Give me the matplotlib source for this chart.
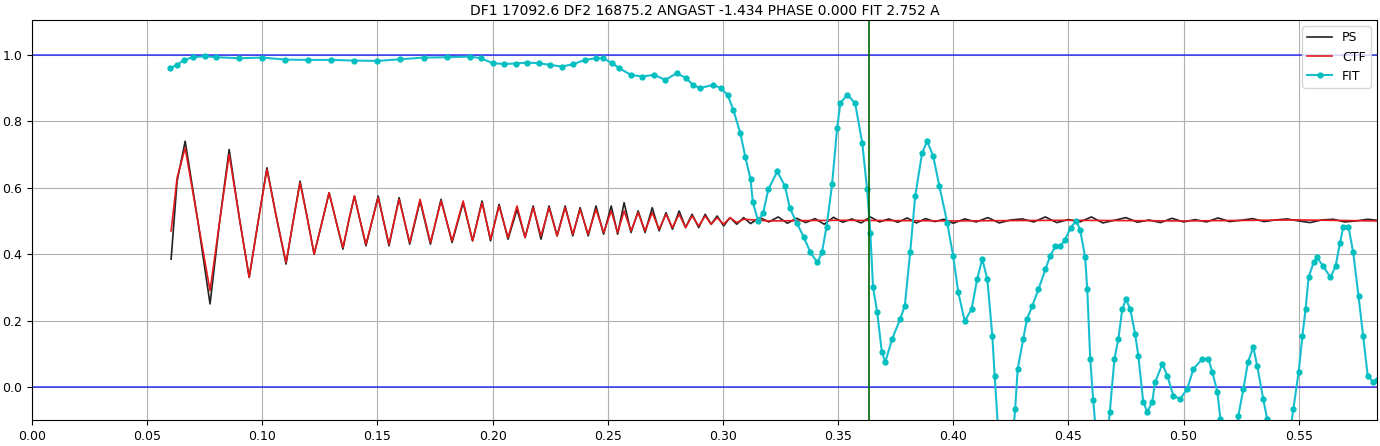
import matplotlib
matplotlib.use("Agg")
import matplotlib.pyplot as plt

# CTF curve (extrema and crossings)
ctf_x = [0.0604, 0.063, 0.0665, 0.072, 0.0773, 0.0815, 0.0856, 0.090, 0.0943, 0.098, 0.102, 0.106,
         0.1103, 0.1133, 0.1164, 0.1195, 0.1225, 0.1257, 0.129, 0.132, 0.135, 0.1375, 0.140, 0.1425, 0.145,
         0.1503, 0.155, 0.1594, 0.164, 0.1685, 0.173, 0.1776, 0.1824, 0.1872, 0.1913, 0.1954, 0.1991,
         0.2028, 0.2067, 0.2106, 0.2141, 0.2176, 0.221, 0.2245, 0.228, 0.2315, 0.2348, 0.238, 0.2415,
         0.2449, 0.2482, 0.2515, 0.2543, 0.2571, 0.2601, 0.2632, 0.2662, 0.2693, 0.2723, 0.2753, 0.2781,
         0.281, 0.2838, 0.2866, 0.2895, 0.2923, 0.2949, 0.2975, 0.3003, 0.3031, 0.306, 0.309]
ctf_y = [0.47, 0.63, 0.72, 0.50, 0.29, 0.50, 0.70, 0.51, 0.33, 0.49, 0.655, 0.515,
         0.375, 0.495, 0.615, 0.51, 0.40, 0.49, 0.585, 0.50, 0.42, 0.50, 0.575, 0.50, 0.43,
         0.57, 0.43, 0.565, 0.435, 0.565, 0.435, 0.56, 0.44, 0.56, 0.44, 0.555, 0.445,
         0.545, 0.45, 0.545, 0.45, 0.54, 0.455, 0.54, 0.455, 0.54, 0.46, 0.535, 0.46,
         0.535, 0.465, 0.53, 0.465, 0.53, 0.47, 0.525, 0.47, 0.525, 0.475, 0.52, 0.48,
         0.52, 0.48, 0.515, 0.485, 0.515, 0.49, 0.51, 0.49, 0.51, 0.495, 0.505]
ctf_tail_x = [0.32, 0.35, 0.40, 0.45, 0.50, 0.55, 0.584]
ctf_tail_y = [0.500, 0.502, 0.500, 0.502, 0.500, 0.503, 0.500]

# PS curve (same sampling)
ps_y = [0.385, 0.62, 0.74, 0.50, 0.25, 0.50, 0.715, 0.51, 0.33, 0.49, 0.66, 0.515,
        0.37, 0.495, 0.62, 0.51, 0.40, 0.49, 0.585, 0.50, 0.415, 0.50, 0.575, 0.50, 0.425,
        0.575, 0.425, 0.57, 0.43, 0.56, 0.43, 0.565, 0.435, 0.555, 0.44, 0.56, 0.44,
        0.55, 0.445, 0.535, 0.45, 0.545, 0.445, 0.545, 0.455, 0.545, 0.455, 0.54, 0.455,
        0.545, 0.46, 0.545, 0.46, 0.555, 0.465, 0.53, 0.465, 0.54, 0.47, 0.525, 0.475,
        0.53, 0.48, 0.52, 0.48, 0.52, 0.49, 0.515, 0.485, 0.51, 0.49, 0.51]
ps_tail_x = [0.312, 0.316, 0.320, 0.324, 0.328, 0.332, 0.336, 0.340, 0.344, 0.348, 0.352, 0.356,
             0.360, 0.364, 0.368, 0.372, 0.376, 0.380, 0.384, 0.388, 0.392, 0.396, 0.400, 0.405,
             0.410, 0.415, 0.420, 0.425, 0.430, 0.435, 0.440, 0.445, 0.450, 0.455, 0.460, 0.465,
             0.470, 0.475, 0.480, 0.485, 0.490, 0.495, 0.500, 0.505, 0.510, 0.515, 0.520, 0.525,
             0.530, 0.535, 0.540, 0.545, 0.550, 0.555, 0.560, 0.565, 0.570, 0.575, 0.580, 0.584]
ps_tail_y = [0.492, 0.510, 0.497, 0.512, 0.493, 0.508, 0.495, 0.507, 0.490, 0.511, 0.496, 0.506,
             0.494, 0.512, 0.497, 0.506, 0.496, 0.509, 0.494, 0.507, 0.498, 0.505, 0.493, 0.506,
             0.497, 0.510, 0.494, 0.503, 0.506, 0.497, 0.512, 0.495, 0.504, 0.497, 0.512, 0.494,
             0.502, 0.510, 0.496, 0.503, 0.495, 0.508, 0.497, 0.504, 0.497, 0.509, 0.498, 0.502,
             0.507, 0.498, 0.503, 0.506, 0.500, 0.495, 0.503, 0.505, 0.497, 0.500, 0.505, 0.502]

# FIT curve
fit_x = [0.060, 0.063, 0.066, 0.070, 0.075, 0.080, 0.090, 0.100, 0.110, 0.120, 0.130, 0.140, 0.150,
         0.160, 0.170, 0.180, 0.190, 0.195, 0.200, 0.205, 0.210, 0.215, 0.220, 0.225, 0.230, 0.235,
         0.240, 0.245, 0.248, 0.252, 0.255, 0.260, 0.265, 0.270, 0.275, 0.280, 0.284, 0.287, 0.290,
         0.2958, 0.299, 0.302, 0.3045, 0.3075, 0.3097, 0.312, 0.313, 0.3153, 0.3175, 0.3197, 0.3236,
         0.327, 0.329, 0.332, 0.335, 0.338, 0.341, 0.343, 0.345, 0.3474, 0.3496, 0.351, 0.354, 0.3574,
         0.3605, 0.3626, 0.364, 0.3652, 0.367, 0.369, 0.3705, 0.3735, 0.377, 0.379, 0.3813, 0.3835,
         0.3865, 0.3887, 0.3913, 0.394, 0.3974, 0.400, 0.4022, 0.405, 0.408, 0.4104, 0.4126, 0.4148,
         0.417, 0.418, 0.4225, 0.4269, 0.428, 0.4304, 0.432, 0.4343, 0.437, 0.440, 0.442, 0.4443,
         0.4465, 0.4486, 0.451, 0.4534, 0.4551, 0.4573, 0.4582, 0.4595, 0.4608, 0.4645, 0.468, 0.470,
         0.4717, 0.4734, 0.475, 0.4769, 0.479, 0.4804, 0.4825, 0.4843, 0.4864, 0.4877, 0.4908, 0.493,
         0.4956, 0.4986, 0.5016, 0.5043, 0.5081, 0.5108, 0.5125, 0.5147, 0.516, 0.520, 0.5238, 0.526,
         0.528, 0.5303, 0.532, 0.5346, 0.5363, 0.542, 0.5477, 0.550, 0.5516, 0.553, 0.5543, 0.5565,
         0.558, 0.5607, 0.5638, 0.566, 0.568, 0.5694, 0.5716, 0.5737, 0.576, 0.578, 0.580, 0.5824, 0.584]
fit_y = [0.96, 0.97, 0.985, 0.993, 0.996, 0.993, 0.99, 0.992, 0.986, 0.985, 0.985, 0.983, 0.982,
         0.987, 0.992, 0.993, 0.995, 0.99, 0.975, 0.973, 0.974, 0.977, 0.975, 0.97, 0.965, 0.972,
         0.985, 0.99, 0.99, 0.975, 0.96, 0.94, 0.935, 0.94, 0.925, 0.945, 0.93, 0.91, 0.90,
         0.91, 0.90, 0.88, 0.835, 0.766, 0.694, 0.625, 0.556, 0.50, 0.525, 0.595, 0.649,
         0.604, 0.54, 0.495, 0.453, 0.405, 0.375, 0.405, 0.483, 0.61, 0.78, 0.855, 0.88, 0.855,
         0.735, 0.595, 0.465, 0.30, 0.225, 0.105, 0.075, 0.145, 0.205, 0.245, 0.405, 0.575,
         0.705, 0.74, 0.695, 0.605, 0.495, 0.393, 0.285, 0.198, 0.235, 0.325, 0.385, 0.325,
         0.153, 0.033, -0.45, -0.066, 0.054, 0.144, 0.204, 0.243, 0.294, 0.354, 0.393, 0.423,
         0.423, 0.444, 0.48, 0.50, 0.474, 0.39, 0.294, 0.084, -0.04, -0.35, -0.075, 0.084,
         0.144, 0.234, 0.264, 0.234, 0.159, 0.093, -0.045, -0.075, -0.045, 0.015, 0.069, 0.033,
         -0.027, -0.036, -0.006, 0.054, 0.084, 0.084, 0.045, -0.015, -0.096, -0.3, -0.087, -0.006,
         0.075, 0.12, 0.063, -0.036, -0.096, -0.35, -0.066, 0.045, 0.153, 0.234, 0.33, 0.375,
         0.39, 0.363, 0.33, 0.363, 0.435, 0.483, 0.483, 0.405, 0.273, 0.153, 0.033, 0.015, 0.02]

best_res = 0.3635
title = "DF1 17092.6 DF2 16875.2 ANGAST -1.434 PHASE 0.000 FIT 2.752 A"

fig = plt.figure(figsize=(13.8, 4.46), dpi=100)
ax = fig.add_axes([0.0232, 0.058, 0.9746, 0.897])
ax.grid(True, color="#b0b0b0", linewidth=0.8)
ax.set_axisbelow(True)
ax.axhline(0, color="blue", alpha=0.7, linewidth=1.2)
ax.axhline(1, color="blue", alpha=0.7, linewidth=1.2)
ax.plot(ctf_x + ps_tail_x, ps_y + ps_tail_y, color="#222222", linewidth=1.2, label="PS")
ax.plot(ctf_x + ctf_tail_x, ctf_y + ctf_tail_y, color="#e41a1c", linewidth=1.2, label="CTF")
ax.plot(fit_x, fit_y, color="#17becf", linewidth=1.5, marker="o", markersize=3.5, label="FIT",
        markerfacecolor="#00bfbf", markeredgecolor="#00bfbf")
ax.axvline(best_res, color="darkgreen", linewidth=1.2)
ax.set_xlim(0, 0.584)
ax.set_ylim(-0.1, 1.105)
ax.set_xticks([0.0, 0.05, 0.10, 0.15, 0.20, 0.25, 0.30, 0.35, 0.40, 0.45, 0.50, 0.55])
ax.set_xticklabels(["0.00", "0.05", "0.10", "0.15", "0.20", "0.25", "0.30", "0.35", "0.40", "0.45", "0.50", "0.55"])
ax.set_yticks([0.0, 0.2, 0.4, 0.6, 0.8, 1.0])
ax.tick_params(labelsize=9)
ax.set_title(title, fontsize=10, pad=4)
ax.legend(loc="upper right", fontsize=9)
fig.savefig("out.png", dpi=100)
